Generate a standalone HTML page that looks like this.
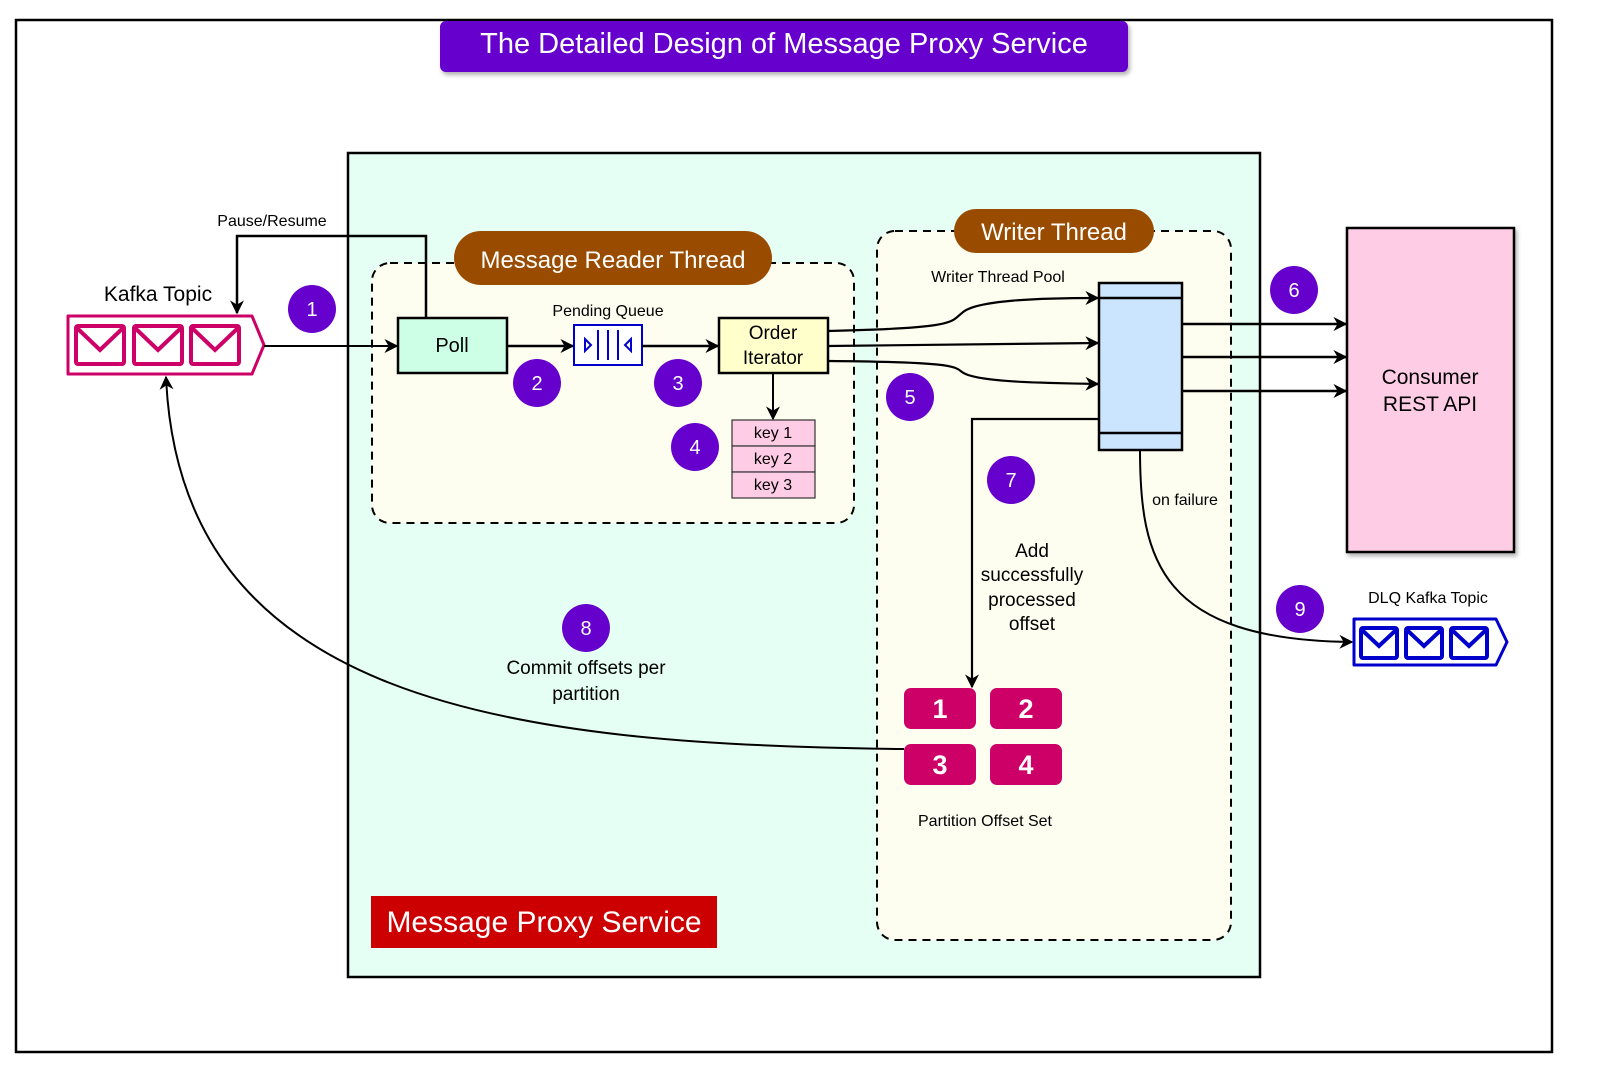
<!DOCTYPE html>
<html><head><meta charset="utf-8"><style>
html,body{margin:0;padding:0;background:#fff}
svg{display:block}
text{font-family:"Liberation Sans",Arial,sans-serif}
</style></head><body>
<svg width="1600" height="1091" viewBox="0 0 1600 1091" xmlns="http://www.w3.org/2000/svg">
<defs>
<marker id="ar" viewBox="0 0 10 10" refX="9" refY="5" markerWidth="8" markerHeight="8" orient="auto-start-reverse" markerUnits="userSpaceOnUse">
<path d="M0,0 L10,5 L0,10 L3,5 Z" fill="#000"/></marker>
<marker id="ar2" viewBox="0 0 10 10" refX="9" refY="5" markerWidth="14" markerHeight="14" orient="auto" markerUnits="userSpaceOnUse">
<path d="M0,0 L10,5 L0,10 L3,5 Z" fill="#000"/></marker>
<filter id="sh" x="-10%" y="-10%" width="130%" height="130%"><feDropShadow dx="2" dy="3" stdDeviation="2" flood-color="#000" flood-opacity="0.3"/></filter>
</defs>
<rect width="1600" height="1091" fill="#fff"/>
<rect x="16" y="20" width="1536" height="1032" fill="#fff" stroke="#000" stroke-width="2.5"/>
<!-- title -->
<rect x="440" y="21" width="688" height="51" rx="6" fill="#6600cc" filter="url(#sh)"/>
<text x="784" y="53" font-size="29" fill="#fff" text-anchor="middle">The Detailed Design of Message Proxy Service</text>
<!-- service -->
<rect x="348" y="153" width="912" height="824" fill="#e6fff5" stroke="#000" stroke-width="2.5"/>
<!-- reader -->
<rect x="372" y="263" width="482" height="260" rx="18" fill="#fdfdf0" stroke="#000" stroke-width="2" stroke-dasharray="8,6"/>
<rect x="454" y="231" width="318" height="54" rx="27" fill="#994c00"/>
<text x="613" y="268" font-size="24" fill="#fff" text-anchor="middle">Message Reader Thread</text>
<!-- writer -->
<rect x="877" y="231" width="354" height="709" rx="18" fill="#fdfdf0" stroke="#000" stroke-width="2" stroke-dasharray="8,6"/>
<rect x="954" y="209" width="200" height="44" rx="22" fill="#994c00"/>
<text x="1054" y="240" font-size="24" fill="#fff" text-anchor="middle">Writer Thread</text>
<!-- kafka -->
<text x="158" y="301" font-size="21" text-anchor="middle">Kafka Topic</text>
<path d="M68,316 L252,316 L264,345 L252,374 L68,374 Z" fill="#fff" stroke="#cc0066" stroke-width="3" stroke-linejoin="round"/>
<g fill="#fff" stroke="#cc0066" stroke-width="4">
<rect x="76" y="326" width="48" height="38" rx="2"/><path d="M77,328 L100,350 L123,328" fill="none"/>
<rect x="134" y="326" width="48" height="38" rx="2"/><path d="M135,328 L158,350 L181,328" fill="none"/>
<rect x="191" y="326" width="48" height="38" rx="2"/><path d="M192,328 L215,350 L238,328" fill="none"/>
</g>
<!-- pause resume -->
<text x="272" y="226" font-size="16" text-anchor="middle">Pause/Resume</text>
<path d="M426,318 L426,236 L237,236 L237,313" fill="none" stroke="#000" stroke-width="2.5" marker-end="url(#ar2)"/>
<path d="M264,346 L397,346" fill="none" stroke="#000" stroke-width="2" marker-end="url(#ar2)"/>
<!-- poll -->
<rect x="398" y="318" width="109" height="55" fill="#ccffe6" stroke="#000" stroke-width="2.5"/>
<text x="452" y="352" font-size="20" text-anchor="middle">Poll</text>
<path d="M507,346 L573,346" stroke="#000" stroke-width="2.5" marker-end="url(#ar2)"/>
<text x="608" y="316" font-size="16" text-anchor="middle">Pending Queue</text>
<rect x="574" y="325" width="68" height="40" fill="#fff" stroke="#0000cc" stroke-width="2"/>
<g stroke="#0000cc" stroke-width="2" fill="none"><path d="M598,330 V360 M608,330 V360 M618,330 V360"/><path d="M585,339 L591,345 L585,351 Z"/><path d="M631,339 L625,345 L631,351 Z"/></g>
<path d="M642,346 L718,346" stroke="#000" stroke-width="2.5" marker-end="url(#ar2)"/>
<rect x="719" y="318" width="109" height="55" fill="#ffffcc" stroke="#000" stroke-width="2.5"/>
<text x="773" y="339" font-size="19" text-anchor="middle">Order</text>
<text x="773" y="364" font-size="19" text-anchor="middle">Iterator</text>
<path d="M773,373 L773,419" stroke="#000" stroke-width="2" marker-end="url(#ar2)"/>
<g fill="#ffcce6" stroke="#333" stroke-width="1.2">
<rect x="732" y="420" width="83" height="26"/><rect x="732" y="446" width="83" height="26"/><rect x="732" y="472" width="83" height="26"/></g>
<g font-size="16" text-anchor="middle"><text x="773" y="438">key 1</text><text x="773" y="464">key 2</text><text x="773" y="490">key 3</text></g>
<!-- to pool -->
<g fill="none" stroke="#000" stroke-width="2.2">
<path d="M828,331 C960,328 950,322 962,313 C975,300 1040,298 1098,298" marker-end="url(#ar2)"/>
<path d="M828,346 L1098,343" marker-end="url(#ar2)"/>
<path d="M828,361 C950,362 955,366 962,372 C975,382 1040,383 1098,384" marker-end="url(#ar2)"/>
</g>
<text x="998" y="282" font-size="16" text-anchor="middle">Writer Thread Pool</text>
<rect x="1099" y="283" width="83" height="167" fill="#cce5ff" stroke="#000" stroke-width="2.5"/>
<path d="M1099,298 H1182 M1099,433 H1182" stroke="#000" stroke-width="2.5"/>
<g fill="none" stroke="#000" stroke-width="2.5">
<path d="M1182,324 L1346,324" marker-end="url(#ar2)"/>
<path d="M1182,357 L1346,357" marker-end="url(#ar2)"/>
<path d="M1182,391 L1346,391" marker-end="url(#ar2)"/>
<path d="M1099,419 L972,419 L972,687" stroke-width="2.2" marker-end="url(#ar2)"/>
<path d="M1140,450 C1140,560 1160,640 1352,642" stroke-width="2" marker-end="url(#ar2)"/>
<path d="M904,749 C500,745 180,700 166,377" stroke-width="2" marker-end="url(#ar2)"/>
</g>
<!-- consumer -->
<rect x="1347" y="228" width="167" height="324" fill="#ffcce6" stroke="#000" stroke-width="2.5" filter="url(#sh)"/>
<text x="1430" y="384" font-size="21" text-anchor="middle">Consumer</text>
<text x="1430" y="411" font-size="21" text-anchor="middle">REST API</text>
<text x="1185" y="505" font-size="16" text-anchor="middle">on failure</text>
<!-- dlq -->
<text x="1428" y="603" font-size="16" text-anchor="middle">DLQ Kafka Topic</text>
<path d="M1354,619 L1496,619 L1507,642 L1496,665 L1354,665 Z" fill="#fff" stroke="#0000cc" stroke-width="3" stroke-linejoin="round"/>
<g fill="#fff" stroke="#0000cc" stroke-width="4">
<rect x="1361" y="628" width="36" height="30" rx="2"/><path d="M1362,630 L1379,646 L1396,630" fill="none"/>
<rect x="1406" y="628" width="36" height="30" rx="2"/><path d="M1407,630 L1424,646 L1441,630" fill="none"/>
<rect x="1451" y="628" width="36" height="30" rx="2"/><path d="M1452,630 L1469,646 L1486,630" fill="none"/>
</g>
<!-- add text -->
<g font-size="19" text-anchor="middle"><text x="1032" y="557">Add</text><text x="1032" y="581">successfully</text><text x="1032" y="606">processed</text><text x="1032" y="630">offset</text>
<text x="586" y="674">Commit offsets per</text><text x="586" y="700">partition</text></g>
<!-- partitions -->
<g fill="#cc0066"><rect x="904" y="688" width="72" height="41" rx="7"/><rect x="990" y="688" width="72" height="41" rx="7"/><rect x="904" y="744" width="72" height="41" rx="7"/><rect x="990" y="744" width="72" height="41" rx="7"/></g>
<g font-size="27" font-weight="bold" fill="#fff" text-anchor="middle"><text x="940" y="718">1</text><text x="1026" y="718">2</text><text x="940" y="774">3</text><text x="1026" y="774">4</text></g>
<text x="985" y="826" font-size="16" text-anchor="middle">Partition Offset Set</text>
<!-- MPS label -->
<rect x="371" y="896" width="346" height="52" fill="#cc0000"/>
<text x="544" y="932" font-size="30" fill="#fff" text-anchor="middle">Message Proxy Service</text>
<!-- circles -->
<g fill="#6600cc"><circle cx="312" cy="309" r="24"/><circle cx="537" cy="383" r="24"/><circle cx="678" cy="383" r="24"/><circle cx="695" cy="447" r="24"/><circle cx="910" cy="397" r="24"/><circle cx="1294" cy="290" r="24"/><circle cx="1011" cy="480" r="24"/><circle cx="586" cy="628" r="24"/><circle cx="1300" cy="609" r="24"/></g>
<g font-size="20" fill="#fff" text-anchor="middle"><text x="312" y="316">1</text><text x="537" y="390">2</text><text x="678" y="390">3</text><text x="695" y="454">4</text><text x="910" y="404">5</text><text x="1294" y="297">6</text><text x="1011" y="487">7</text><text x="586" y="635">8</text><text x="1300" y="616">9</text></g>
</svg>
</body></html>
